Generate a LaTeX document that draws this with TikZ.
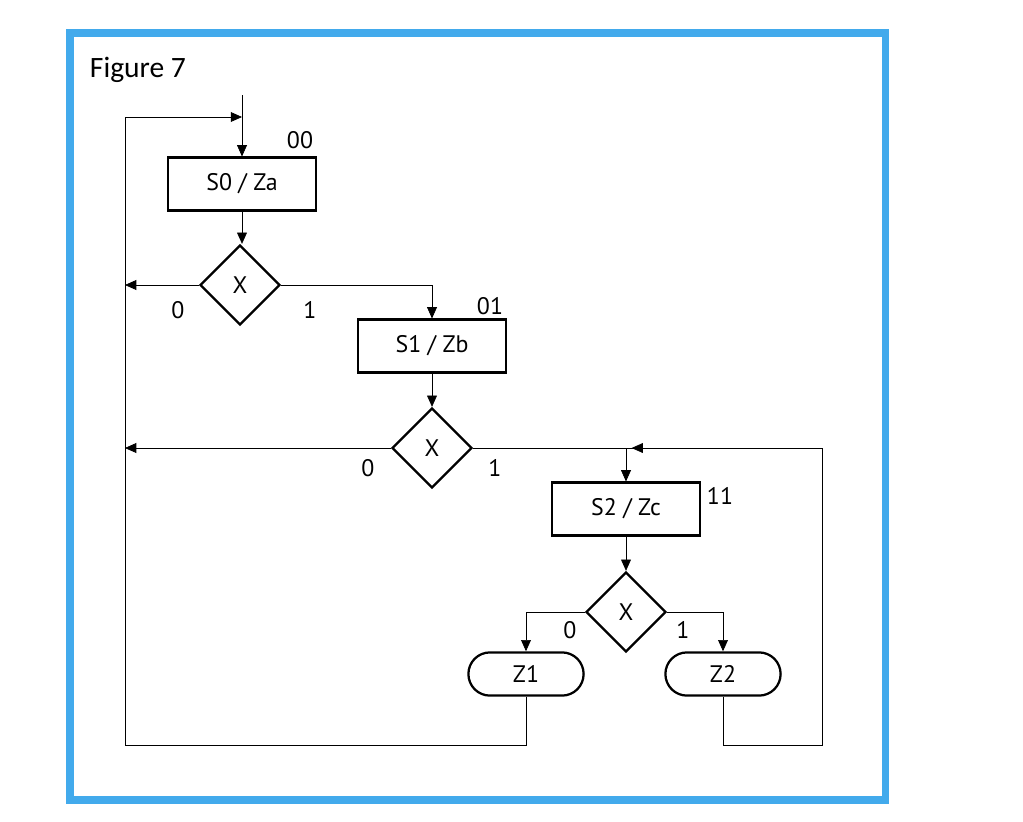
\documentclass[tikz,border=0pt]{standalone}
\usepackage{fontspec}
\setmainfont{PT Sans}
\newfontfamily\figfont{Carlito}
\usetikzlibrary{shapes.geometric,arrows.meta}
\definecolor{frame}{RGB}{66,170,236}
\begin{document}
\begin{tikzpicture}[x=0.025cm,y=-0.025cm,
  st/.style={draw,line width=1.6pt,minimum width=3.7cm,minimum height=1.32cm,inner sep=0pt,font=\fontsize{17}{17}\selectfont},
  dec/.style={draw,diamond,line width=1.6pt,minimum width=2cm,minimum height=2cm,inner sep=0pt,font=\fontsize{17}{17}\selectfont},
  termbox/.style={draw,rounded corners=0.54cm,line width=1.6pt,minimum width=2.88cm,minimum height=1.08cm,inner sep=0pt,font=\fontsize{17}{17}\selectfont},
  ln/.style={draw,line width=0.5pt},
  ar/.style={ln,-{Triangle[length=8pt,width=7pt]}},
  lab/.style={font=\fontsize{17}{17}\selectfont}]
\useasboundingbox (0,0) rectangle (1023,821);
\draw[frame,line width=5pt] (70,33) rectangle (885,800);
\node[font=\figfont\fontsize{21}{21}\selectfont,anchor=west] (fig) at (85,70) {Figure 7};
\node[st] (s0) at (242,184) {S0 / Za};
\node[st] (s1) at (432,346) {S1 / Zb};
\node[st] (s2) at (626,509) {S2 / Zc};
\node[dec] (d1) at (240,285) {X};
\node[dec] (d2) at (432,448) {X};
\node[dec] (d3) at (626,612) {X};
\node[termbox] (z1) at (526,674) {Z1};
\node[termbox] (z2) at (723,674) {Z2};
\node[lab] (l00) at (300,140) {00};
\node[lab] (l01) at (490,306) {01};
\node[lab] (l11) at (720,496) {11};
\node[lab] (a0) at (178,310) {0};
\node[lab] (a1) at (310,310) {1};
\node[lab] (b0) at (368,468) {0};
\node[lab] (b1) at (495,468) {1};
\node[lab] (c0) at (570,630) {0};
\node[lab] (c1) at (683,630) {1};
\coordinate (in) at (242,95);
\coordinate (la) at (125,117);
\coordinate (lb) at (125,745);
\coordinate (rb) at (822,745);
\coordinate (rt) at (822,448);
\coordinate (j) at (626,448);
\draw[ar] (in) -- (s0.north);
\draw[ar] (la) -- (la -| s0.north);
\draw[ar] (s0.south) -- (d1.north -| s0.south);
\draw[ar] (d1.west) -- (d1.west -| la);
\draw[ar] (d1.east) -| (s1.north);
\draw[ar] (s1.south) -- (d2.north);
\draw[ar] (d2.west) -- (d2.west -| la);
\draw[ln] (d2.east) -- (j);
\draw[ar] (j) -- (s2.north);
\draw[ar] (s2.south) -- (d3.north);
\draw[ar] (d3.west) -| (z1.north);
\draw[ar] (d3.east) -| (z2.north);
\draw[ln] (z1.south) |- (lb) -- (la);
\draw[ln] (z2.south) |- (rb) -- (rt) -- (j);
\draw[ar] (rt) -- ([xshift=4]j);
\end{tikzpicture}
\end{document}
